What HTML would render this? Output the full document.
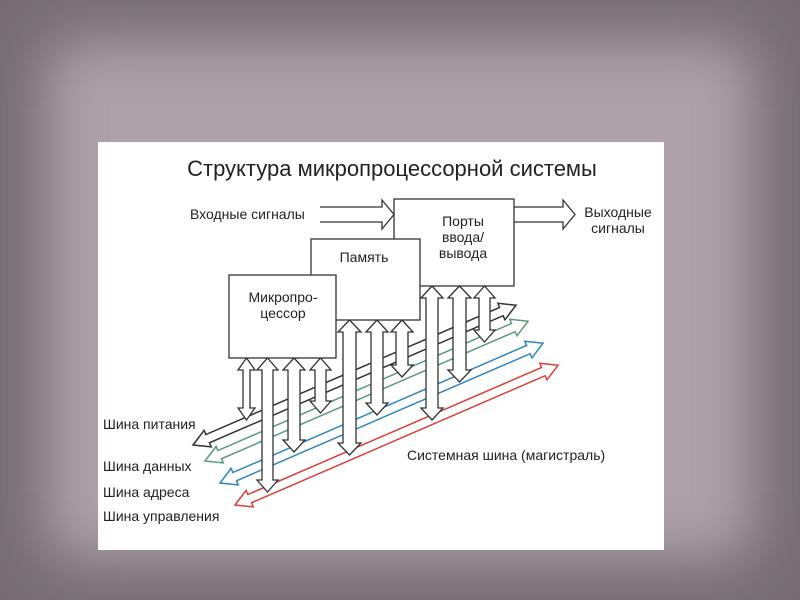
<!DOCTYPE html>
<html><head><meta charset="utf-8"><style>
html,body{margin:0;padding:0;}
body{width:800px;height:600px;overflow:hidden;position:relative;background:#766d75;}
#glow{position:absolute;left:45px;top:40px;width:710px;height:520px;background:#ada0a9;filter:blur(28px);border-radius:30px;}
svg{position:absolute;left:0;top:0;}
text{font-family:"Liberation Sans","DejaVu Sans",sans-serif;fill:#222;}
</style></head><body>
<div id="glow"></div>
<svg width="800" height="600" viewBox="0 0 800 600">
<rect x="98" y="142" width="566" height="408" fill="#fff"/>
<text x="392" y="176" font-size="22" text-anchor="middle" fill="#222">Структура микропроцессорной системы</text>
<text x="190" y="219" font-size="14">Входные сигналы</text>
<text x="618" y="217" font-size="14" text-anchor="middle">Выходные</text>
<text x="618" y="233" font-size="14" text-anchor="middle">сигналы</text>
<g fill="none" stroke="#333" stroke-width="1.3">
<polyline points="320,207 382,207 382,200 394,214.5 382,229 382,222 320,222"/>
<polyline points="514,207 563,207 563,200 575,214.5 563,229 563,222 514,222"/>
</g>
<g stroke-width="1.5" fill="#fff">
<polygon transform="translate(193,445) rotate(-23.4)" stroke="#333" points="0,0 16,-9 16,-4.5 336,-4.5 336,-9 352,0 336,9 336,4.5 16,4.5 16,9"/>
<polygon transform="translate(205,461) rotate(-23.4)" stroke="#5a9a78" points="0,0 16,-9 16,-4.5 336,-4.5 336,-9 352,0 336,9 336,4.5 16,4.5 16,9"/>
<polygon transform="translate(220,483) rotate(-23.4)" stroke="#2f86c0" points="0,0 16,-9 16,-4.5 336,-4.5 336,-9 352,0 336,9 336,4.5 16,4.5 16,9"/>
<polygon transform="translate(235,505) rotate(-23.4)" stroke="#d9413a" points="0,0 16,-9 16,-4.5 336,-4.5 336,-9 352,0 336,9 336,4.5 16,4.5 16,9"/>
</g>
<g fill="#fff" stroke="#333" stroke-width="1.3">
<polygon points="246.5,358 255,370 250,370 250,408 255,408 246.5,420 238,408 243,408 243,370 238,370"/>
<polygon points="267.5,358 278,370 273,370 273,480 278,480 267.5,492 257,480 262,480 262,370 257,370"/>
<polygon points="294,358 305,370 300,370 300,440 305,440 294,452 283,440 288,440 288,370 283,370"/>
<polygon points="320.5,358 331,370 326,370 326,401 331,401 320.5,413 310,401 315,401 315,370 310,370"/>
<polygon points="349.5,320 361,332 356,332 356,443 361,443 349.5,455 338,443 343,443 343,332 338,332"/>
<polygon points="377,320 388,332 383,332 383,403 388,403 377,415 366,403 371,403 371,332 366,332"/>
<polygon points="402,320 413,332 408,332 408,365 413,365 402,377 391,365 396,365 396,332 391,332"/>
<polygon points="432,286 443,298 438,298 438,408 443,408 432,420 421,408 426,408 426,298 421,298"/>
<polygon points="459.5,286 471,298 466,298 466,370 471,370 459.5,382 448,370 453,370 453,298 448,298"/>
<polygon points="484.5,286 495,298 490,298 490,330 495,330 484.5,342 474,330 479,330 479,298 474,298"/>
<rect x="394" y="199" width="120" height="87"/>
<rect x="311" y="239" width="109" height="81"/>
<rect x="229" y="275" width="107" height="83"/>
</g>
<text x="463" y="226" font-size="14" text-anchor="middle">Порты</text>
<text x="463" y="242" font-size="14" text-anchor="middle">ввода/</text>
<text x="463" y="258" font-size="14" text-anchor="middle">вывода</text>
<text x="364" y="262" font-size="14" text-anchor="middle">Память</text>
<text x="283" y="302" font-size="14" text-anchor="middle">Микропро-</text>
<text x="283" y="318" font-size="14" text-anchor="middle">цессор</text>
<text x="103" y="429" font-size="14">Шина питания</text>
<text x="103" y="471" font-size="14">Шина данных</text>
<text x="103" y="497" font-size="14">Шина адреса</text>
<text x="103" y="521" font-size="14">Шина управления</text>
<text x="407" y="460" font-size="14">Системная шина (магистраль)</text>
</svg>
</body></html>
